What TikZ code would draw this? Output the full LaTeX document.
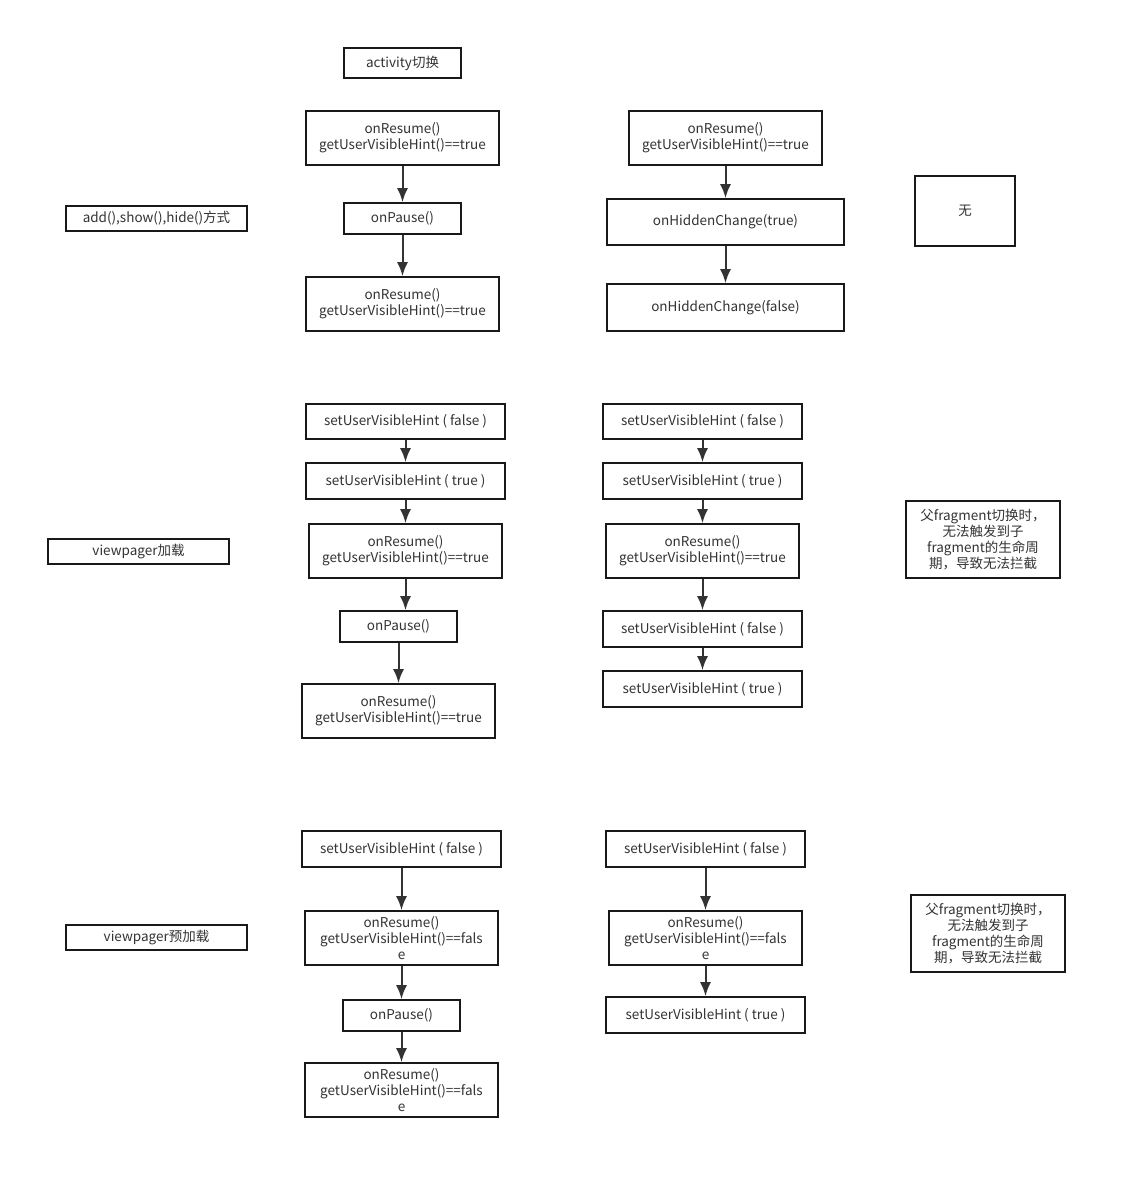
\documentclass[tikz,border=0pt]{standalone}
\usepackage{fontspec}
\setmainfont{Noto Sans CJK SC}
\usetikzlibrary{arrows.meta}
\tikzset{>={Latex[length=14pt,width=11pt]}}
\tikzset{
  box/.style={draw=black!90, line width=1.7pt, inner sep=0pt, align=center,
    text=black!80, font=\fontsize{13.5}{16}\selectfont},
  link/.style={->, draw=black!80, line width=2pt}
}

\begin{document}
\begin{tikzpicture}[x=1pt, y=-1pt]
  \useasboundingbox[fill=white] (0,0) rectangle (1127,1178);

  % row labels
  \node[box, minimum width=181pt, minimum height=25pt] (addlbl) at (156.5,218.5) {add(),show(),hide()方式};
  \node[box, minimum width=181pt, minimum height=25pt] (vplbl) at (138.5,551.5) {viewpager加载};
  \node[box, minimum width=181pt, minimum height=25pt] (prelbl) at (156.5,937.5) {viewpager预加载};

  % activity switch
  \node[box, minimum width=117pt, minimum height=30pt] (act) at (402.5,63) {activity切换};

  % add/show/hide, left column
  \node[box, minimum width=193pt, minimum height=54pt] (a1) at (402.5,138) {onResume()\\getUserVisibleHint()==true};
  \node[box, minimum width=117pt, minimum height=31pt] (a2) at (402.5,218.5) {onPause()};
  \node[box, minimum width=193pt, minimum height=54pt] (a3) at (402.5,304) {onResume()\\getUserVisibleHint()==true};
  \draw[link] (a1) -- (a2);
  \draw[link] (a2) -- (a3);

  % add/show/hide, right column
  \node[box, minimum width=193pt, minimum height=54pt] (b1) at (725.5,138) {onResume()\\getUserVisibleHint()==true};
  \node[box, minimum width=237pt, minimum height=46pt] (b2) at (725.5,222) {onHiddenChange(true)};
  \node[box, minimum width=237pt, minimum height=47pt] (b3) at (725.5,307.5) {onHiddenChange(false)};
  \draw[link] (b1) -- (b2);
  \draw[link] (b2) -- (b3);
  \node[box, minimum width=100pt, minimum height=70pt] (none) at (965,211) {无};

  % viewpager, left column
  \node[box, minimum width=199pt, minimum height=35pt] (c1) at (405.5,421.5) {setUserVisibleHint ( false )};
  \node[box, minimum width=199pt, minimum height=36pt] (c2) at (405.5,481) {setUserVisibleHint ( true )};
  \node[box, minimum width=193pt, minimum height=54pt] (c3) at (405.5,551) {onResume()\\getUserVisibleHint()==true};
  \node[box, minimum width=117pt, minimum height=31pt] (c4) at (398.5,626.5) {onPause()};
  \node[box, minimum width=193pt, minimum height=54pt] (c5) at (398.5,711) {onResume()\\getUserVisibleHint()==true};
  \draw[link] (c1) -- (c2);
  \draw[link] (c2) -- (c3);
  \draw[link] (c3.south) -- (c3.south |- c4.north);
  \draw[link] (c4) -- (c5);

  % viewpager, right column
  \node[box, minimum width=199pt, minimum height=35pt] (d1) at (702.5,421.5) {setUserVisibleHint ( false )};
  \node[box, minimum width=199pt, minimum height=36pt] (d2) at (702.5,481) {setUserVisibleHint ( true )};
  \node[box, minimum width=193pt, minimum height=54pt] (d3) at (702.5,551) {onResume()\\getUserVisibleHint()==true};
  \node[box, minimum width=199pt, minimum height=36pt] (d4) at (702.5,629) {setUserVisibleHint ( false )};
  \node[box, minimum width=199pt, minimum height=36pt] (d5) at (702.5,689) {setUserVisibleHint ( true )};
  \draw[link] (d1) -- (d2);
  \draw[link] (d2) -- (d3);
  \draw[link] (d3) -- (d4);
  \draw[link] (d4) -- (d5);
  \node[box, minimum width=154pt, minimum height=77pt] (note1) at (983,539.5) {父fragment切换时，\\无法触发到子\\fragment的生命周\\期，导致无法拦截};

  % preloading, left column
  \node[box, minimum width=199pt, minimum height=36pt] (e1) at (401.5,849) {setUserVisibleHint ( false )};
  \node[box, minimum width=193pt, minimum height=54pt] (e2) at (401.5,938) {onResume()\\getUserVisibleHint()==fals\\e};
  \node[box, minimum width=117pt, minimum height=31pt] (e3) at (401.5,1015.5) {onPause()};
  \node[box, minimum width=193pt, minimum height=54pt] (e4) at (401.5,1090) {onResume()\\getUserVisibleHint()==fals\\e};
  \draw[link] (e1) -- (e2);
  \draw[link] (e2) -- (e3);
  \draw[link] (e3) -- (e4);

  % preloading, right column
  \node[box, minimum width=199pt, minimum height=36pt] (f1) at (705.5,849) {setUserVisibleHint ( false )};
  \node[box, minimum width=193pt, minimum height=54pt] (f2) at (705.5,938) {onResume()\\getUserVisibleHint()==fals\\e};
  \node[box, minimum width=199pt, minimum height=36pt] (f3) at (705.5,1015) {setUserVisibleHint ( true )};
  \draw[link] (f1) -- (f2);
  \draw[link] (f2) -- (f3);
  \node[box, minimum width=154pt, minimum height=77pt] (note2) at (988,933.5) {父fragment切换时，\\无法触发到子\\fragment的生命周\\期，导致无法拦截};
\end{tikzpicture}
\end{document}
